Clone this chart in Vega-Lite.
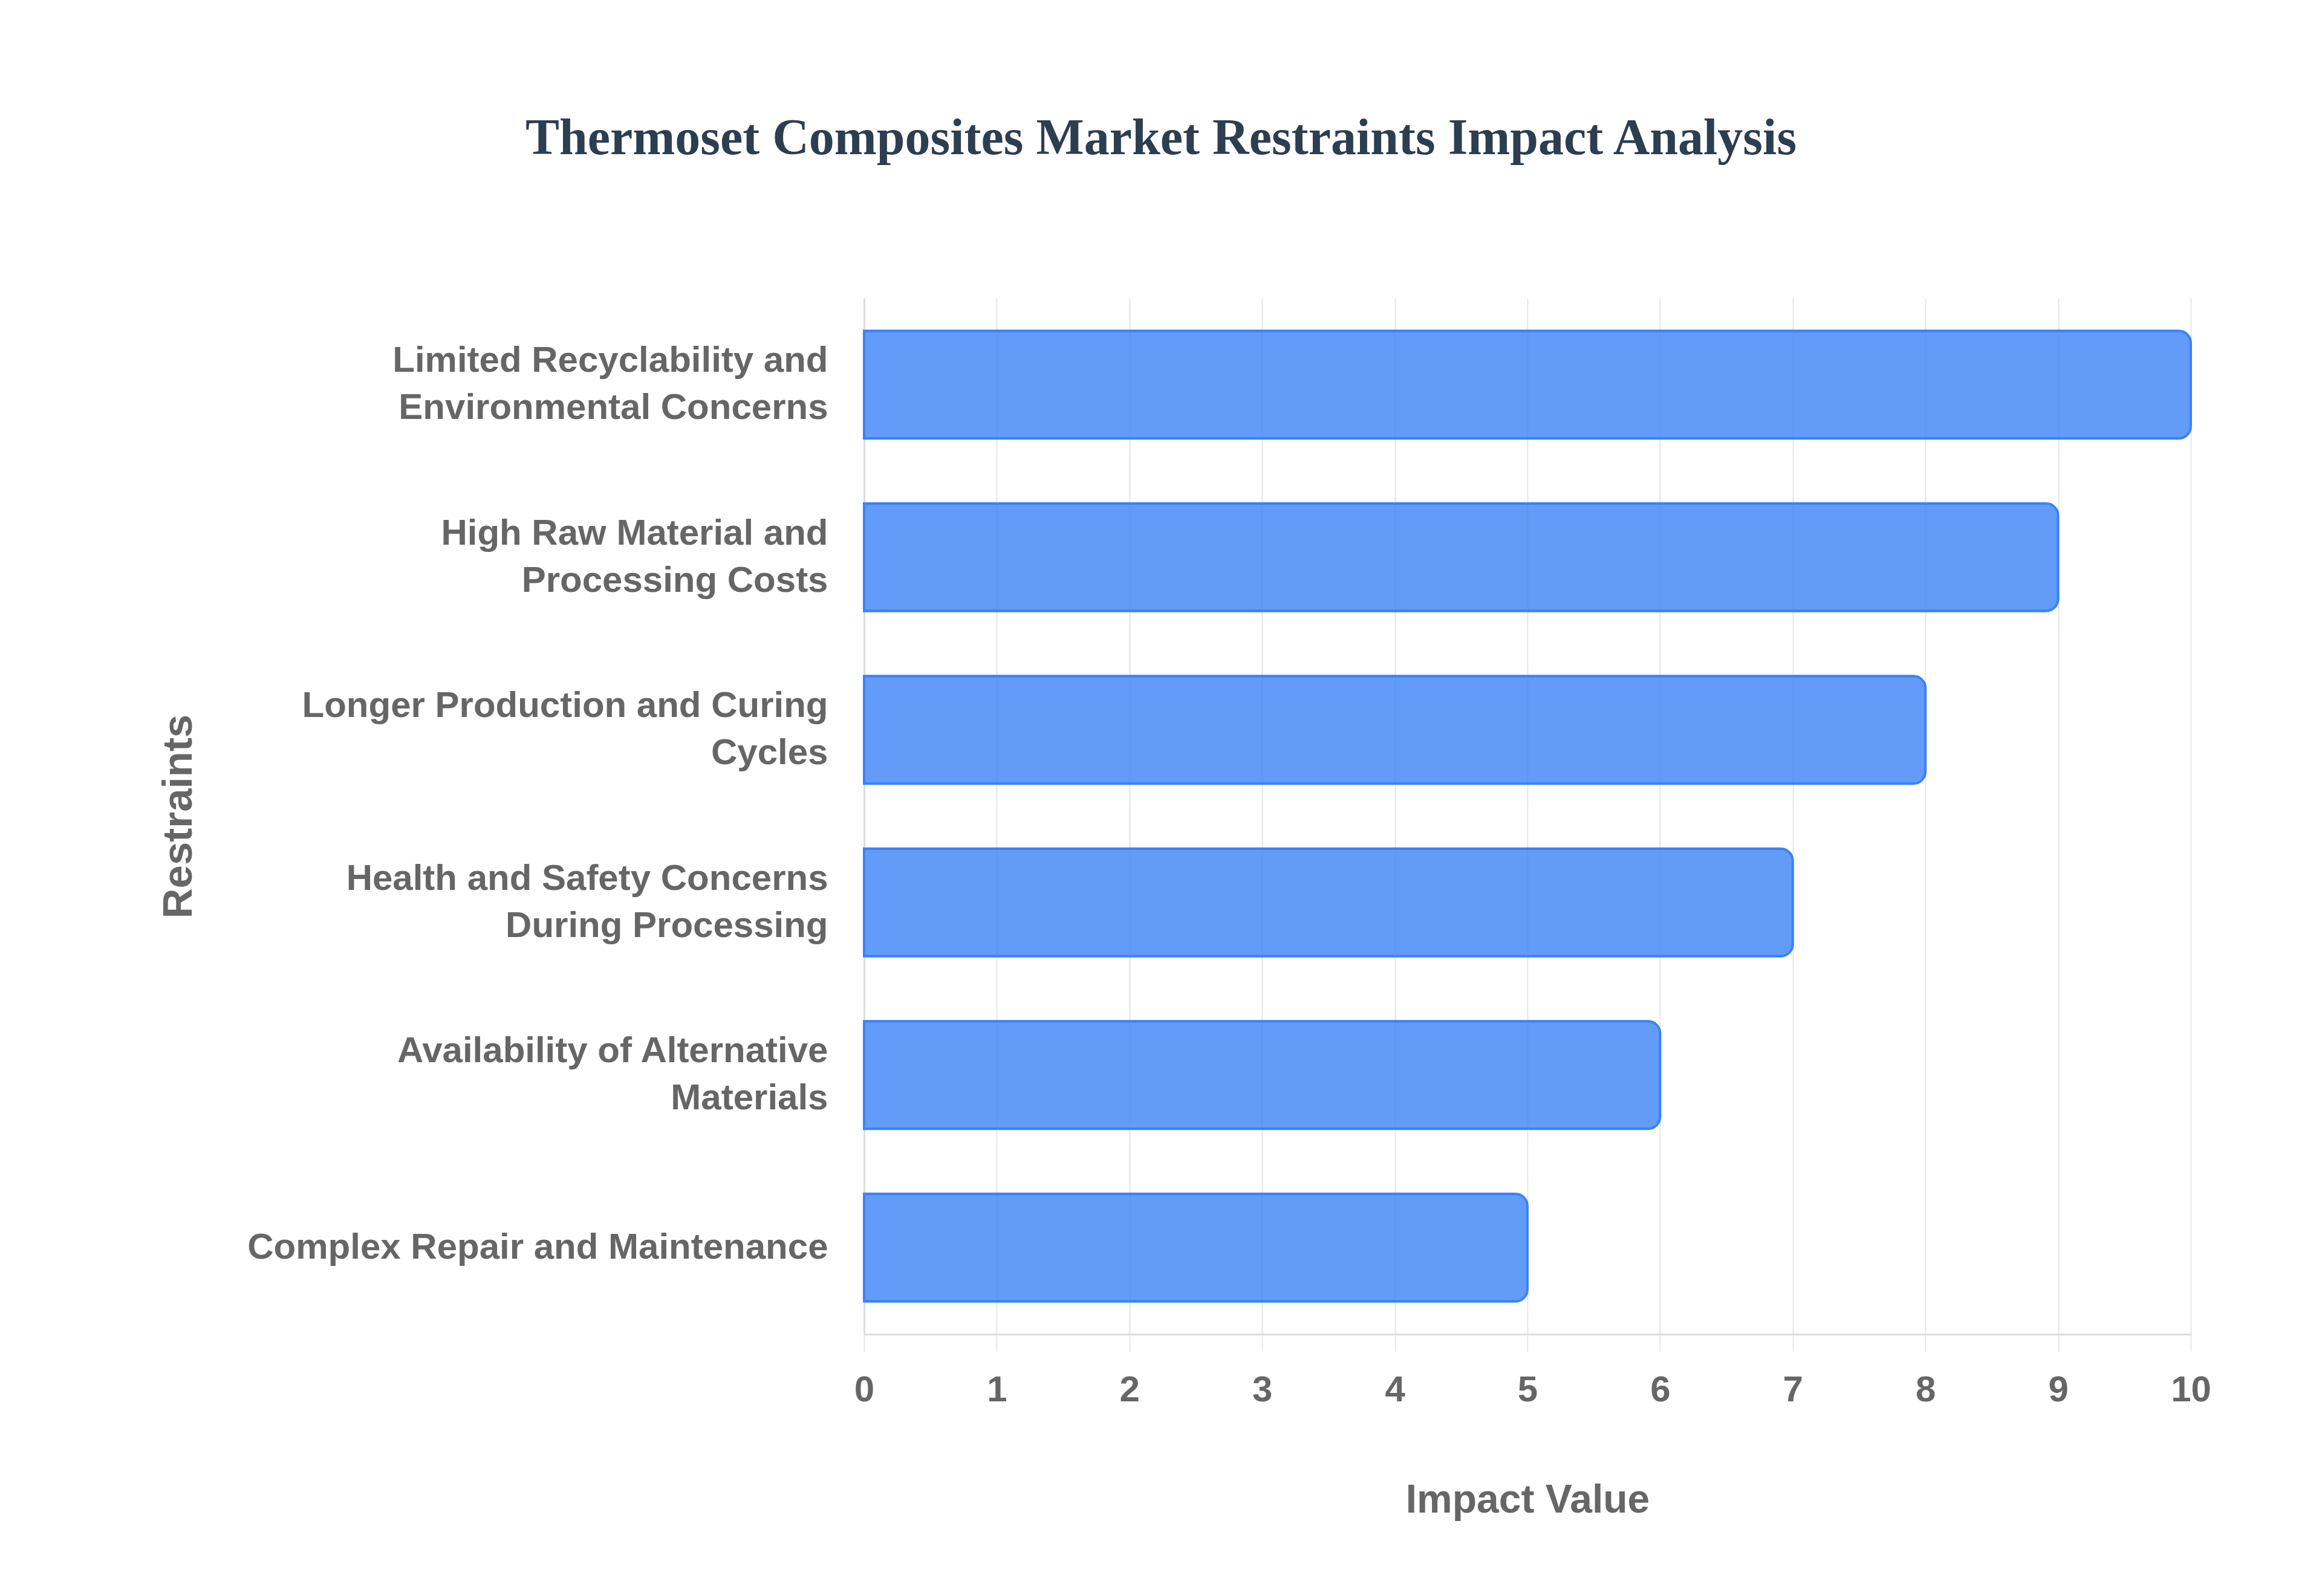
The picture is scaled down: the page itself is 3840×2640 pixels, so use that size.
{
  "$schema": "https://vega.github.io/schema/vega-lite/v6.json",
  "autosize": "none",
  "width": 2194,
  "height": 1714,
  "padding": {"left": 1429, "top": 493, "right": 217, "bottom": 433},
  "background": "#ffffff",
  "title": {
    "text": "Thermoset Composites Market Restraints Impact Analysis",
    "font": "Liberation Serif",
    "fontSize": 84,
    "fontWeight": "bold",
    "color": "#2c3e50",
    "anchor": "middle",
    "frame": "group",
    "dx": -606,
    "offset": 220
  },
  "data": {
    "values": [
      {"restraint": "Limited Recyclability and Environmental Concerns", "impact": 10},
      {"restraint": "High Raw Material and Processing Costs", "impact": 9},
      {"restraint": "Longer Production and Curing Cycles", "impact": 8},
      {"restraint": "Health and Safety Concerns During Processing", "impact": 7},
      {"restraint": "Availability of Alternative Materials", "impact": 6},
      {"restraint": "Complex Repair and Maintenance", "impact": 5}
    ]
  },
  "mark": {
    "type": "bar",
    "fill": "#3b82f6",
    "fillOpacity": 0.8,
    "stroke": "#3b82f6",
    "strokeWidth": 4,
    "cornerRadiusEnd": 20
  },
  "encoding": {
    "y": {
      "field": "restraint", "type": "nominal", "sort": null, "title": "Restraints",
      "scale": {"paddingInner": 0.377, "paddingOuter": 0.19},
      "axis": {
        "ticks": false,
        "grid": false,
        "labelPadding": 60,
        "labelLimit": 1200,
        "labelLineHeight": 78,
        "labelOffset": {"condition": {"test": "length(datum.value) > 30", "value": -39}, "value": 0},
        "titleFontSize": 69,
        "titlePadding": 899,
        "labelExpr": "datum.value == 'Limited Recyclability and Environmental Concerns' ? ['Limited Recyclability and', 'Environmental Concerns'] : datum.value == 'High Raw Material and Processing Costs' ? ['High Raw Material and', 'Processing Costs'] : datum.value == 'Longer Production and Curing Cycles' ? ['Longer Production and Curing', 'Cycles'] : datum.value == 'Health and Safety Concerns During Processing' ? ['Health and Safety Concerns', 'During Processing'] : datum.value == 'Availability of Alternative Materials' ? ['Availability of Alternative', 'Materials'] : datum.value"
      }
    },
    "x": {
      "field": "impact", "type": "quantitative", "title": "Impact Value",
      "scale": {"domain": [0, 10], "nice": false},
      "axis": {
        "values": [0, 1, 2, 3, 4, 5, 6, 7, 8, 9, 10],
        "grid": true,
        "labelFlush": false,
        "tickSize": 28,
        "labelPadding": 35,
        "titleFontSize": 66,
        "titlePadding": 120
      }
    }
  },
  "config": {
    "view": {"stroke": null},
    "axis": {
      "labelFont": "Liberation Sans",
      "labelFontSize": 60,
      "labelFontWeight": "bold",
      "labelColor": "#666666",
      "titleFont": "Liberation Sans",
      "titleFontWeight": "bold",
      "titleColor": "#666666",
      "gridColor": "#e6e6e6",
      "gridWidth": 2,
      "tickColor": "#e6e6e6",
      "tickWidth": 2,
      "domainColor": "#dddddd",
      "domainWidth": 3
    }
  }
}
